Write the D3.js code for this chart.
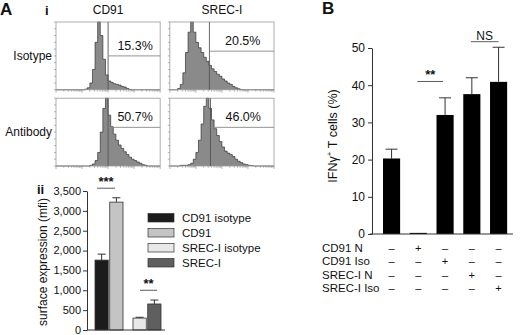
<!DOCTYPE html>
<html>
<head>
<meta charset="utf-8">
<script src="https://cdn.jsdelivr.net/npm/d3@7"></script>
<style>
  body { margin: 0; background: #fff; }
  svg text { font-family: "Liberation Sans", Arial, sans-serif; fill: #111; }
</style>
</head>
<body>
<div id="canvas"></div>
<script>
// DATA
// flow histograms: counts in 2.5% bins across the log axis, as % of the peak
const cd91IsoHist = [0,0,0,0,0,0,0,0,0,0,0,1,3,10,30,70,100,80,45,22,13,11,9,8,7,5,4,2,0.5,0,0,0,0,0,0,0,0,0,0,0];
const srecIsoHist = [0,0,0,2,8,25,55,85,100,85,70,62,55,48,42,36,31,27,23,20,16,13,10,8,5,3,1.5,0.5,0,0,0,0,0,0,0,0,0,0,0,0];
const cd91AbHist = [0,0,0,0,0,0,0,0,0,0,0,0,0,1,3,8,20,50,85,100,75,58,47,38,31,26,21,17,13,10,8,6,4,2,1,0,0,0,0,0];
const srecAbHist = [0,0,0,0,1,1,1,2,4,10,20,38,62,88,100,85,68,55,45,36,28,22,19,17,14,10,7,5,3,2,1,0.5,0,0,0,0,0,0,0,0];
const histColumns = ["CD91", "SREC-I"];
const histRows = ["Isotype", "Antibody"];
const histPercents = ["15.3%", "20.5%", "50.7%", "46.0%"];
const gateX = [50, 38, 50, 39];          // gate position, % of axis
const gateY = [50, 57, 57, 57];          // horizontal gate line, % of height from bottom

// surface expression
const surfaceGroups = ["CD91", "SREC-I"];
const surfaceSeries = ["CD91 isotype", "CD91", "SREC-I isotype", "SREC-I"];
const surfaceGroupOf = ["CD91", "CD91", "SREC-I", "SREC-I"];
const surfaceMean = [1760, 3220, 300, 655];
const surfaceErr = [150, 110, 20, 100];
const surfaceTicks = [0, 500, 1000, 1500, 2000, 2500, 3000, 3500];

// IFN-gamma T cells
const conditions = ["c1", "c2", "c3", "c4", "c5"];
const ifnMean = [20.3, 0.3, 32.0, 37.6, 40.9];
const ifnErr = [2.5, 0, 4.6, 4.4, 9.3];
const ifnTicks = [0, 10, 20, 30, 40, 50];
const treatRows = ["CD91 N", "CD91 Iso", "SREC-I N", "SREC-I Iso"];
const treatSigns = [
  ["–", "+", "–", "–", "–"],
  ["–", "–", "+", "–", "–"],
  ["–", "–", "–", "+", "–"],
  ["–", "–", "–", "–", "+"]
];

// CANVAS
const width = 520, height = 335;
const svg = d3.select("#canvas").append("svg")
  .attr("width", width).attr("height", height);

// PANEL LETTERS
svg.append("text").attr("x", 0).attr("y", 15).style("font-size", "17px").style("font-weight", "bold").text("A");
svg.append("text").attr("x", 45).attr("y", 15).style("font-size", "13px").style("font-weight", "bold").text("i");
svg.append("text").attr("x", 37).attr("y", 194).style("font-size", "13px").style("font-weight", "bold").text("ii");
svg.append("text").attr("x", 322).attr("y", 14).style("font-size", "17px").style("font-weight", "bold").text("B");

// ---------- A i : HISTOGRAMS ----------
const boxX = d3.scaleBand(histColumns, [56, 274]).paddingInner(0.085);
const boxY = d3.scaleBand(histRows, [22, 166]).paddingInner(0.11);
const hists = [cd91IsoHist, srecIsoHist, cd91AbHist, srecAbHist];

histColumns.forEach((c, ci) => {
  svg.append("text").attr("x", boxX(c) + boxX.bandwidth() / 2).attr("y", 14)
    .attr("text-anchor", "middle").style("font-size", "12px").text(c);
});
histRows.forEach(r => {
  svg.append("text").attr("x", 52).attr("y", boxY(r) + boxY.bandwidth() / 2 + 4)
    .attr("text-anchor", "end").style("font-size", "12px").text(r);
});

histRows.forEach((r, ri) => {
  histColumns.forEach((c, ci) => {
    const k = ri * 2 + ci;
    const x0 = boxX(c), w = boxX.bandwidth();
    const y0 = boxY(r), h = boxY.bandwidth();
    const g = svg.append("g").attr("transform", `translate(${x0},${y0})`);
    const data = hists[k];
    const sx = d3.scaleLinear([0, data.length], [0, w]);
    const sy = d3.scaleLinear([0, 100], [h, 0]);

    const pts = data.map((v, i) => [i, v]).concat([[data.length, 0]]);
    const area = d3.area().x(d => sx(d[0])).y0(h).y1(d => sy(d[1])).curve(d3.curveStepAfter);
    const line = d3.line().x(d => sx(d[0])).y(d => sy(d[1])).curve(d3.curveStepAfter);
    g.append("path").datum(pts).attr("d", area).attr("fill", "#8a8a8a");
    g.append("path").datum(pts).attr("d", line).attr("fill", "none").attr("stroke", "#333").attr("stroke-width", 0.7);

    // frame
    g.append("rect").attr("width", w).attr("height", h)
      .attr("fill", "none").attr("stroke", "#999").attr("stroke-width", 0.8);

    // log axis ticks on bottom
    const lx = d3.scaleLog([1, 10000], [0, w]);
    const minor = lx.ticks();
    g.selectAll(".bt").data(minor).join("line")
      .attr("x1", d => lx(d)).attr("x2", d => lx(d))
      .attr("y1", h).attr("y2", d => h + (Math.log10(d) % 1 === 0 ? 3 : 1.8))
      .attr("stroke", "#888").attr("stroke-width", 0.6);
    const ly = d3.scaleLinear([0, 10], [h, 0]);
    g.selectAll(".lt").data(ly.ticks(10)).join("line")
      .attr("x1", -2).attr("x2", 0)
      .attr("y1", d => ly(d)).attr("y2", d => ly(d))
      .attr("stroke", "#888").attr("stroke-width", 0.6);

    // gate
    const gx = d3.scaleLinear([0, 100], [0, w]);
    g.append("line").attr("x1", gx(gateX[k])).attr("x2", gx(gateX[k]))
      .attr("y1", 0).attr("y2", h).attr("stroke", "#555").attr("stroke-width", 0.9);
    g.append("line").attr("x1", gx(gateX[k])).attr("x2", w)
      .attr("y1", sy(gateY[k])).attr("y2", sy(gateY[k])).attr("stroke", "#888").attr("stroke-width", 0.9);
    g.append("text").attr("x", (gx(gateX[k]) + w) / 2 + 1).attr("y", sy(gateY[k]) - 6)
      .attr("text-anchor", "middle").style("font-size", "12.5px").text(histPercents[k]);
  });
});

// ---------- A ii : SURFACE EXPRESSION ----------
const aY = d3.scaleLinear([0, 3500], [330, 191]);
const aGroup = d3.scaleBand(surfaceGroups, [87.4, 168.6]).paddingInner(0.263).paddingOuter(0.2);
const aInner = d3.scaleBand([0, 1], [0, aGroup.bandwidth()]).paddingInner(0.1);
const aColor = d3.scaleOrdinal(surfaceSeries, ["#1c1c1c", "#c4c4c4", "#e8e8e8", "#5f5f5f"]);
const aXpos = i => aGroup(surfaceGroupOf[i]) + aInner(surfaceGroupOf.slice(0, i).filter(g => g === surfaceGroupOf[i]).length);

const aPlot = svg.append("g");
surfaceSeries.forEach((s, i) => {
  const x = aXpos(i), bw = aInner.bandwidth();
  aPlot.append("line").attr("x1", x + bw / 2).attr("x2", x + bw / 2)
    .attr("y1", aY(surfaceMean[i])).attr("y2", aY(surfaceMean[i] + surfaceErr[i]))
    .attr("stroke", "#333").attr("stroke-width", 1);
  aPlot.append("line").attr("x1", x + bw / 2 - 4).attr("x2", x + bw / 2 + 4)
    .attr("y1", aY(surfaceMean[i] + surfaceErr[i])).attr("y2", aY(surfaceMean[i] + surfaceErr[i]))
    .attr("stroke", "#333").attr("stroke-width", 1);
  aPlot.append("rect").attr("x", x).attr("width", bw)
    .attr("y", aY(surfaceMean[i])).attr("height", aY(0) - aY(surfaceMean[i]))
    .attr("fill", aColor(s)).attr("stroke", "#333").attr("stroke-width", 0.8);
});

const aAxis = svg.append("g").attr("transform", "translate(87,0)")
  .call(d3.axisLeft(aY).tickValues(surfaceTicks).tickFormat(d3.format(",")).tickSize(4).tickSizeOuter(0));
aAxis.selectAll("text").style("font-size", "11px").attr("x", -6).attr("dy", "0.3em");
aAxis.selectAll("line, path").attr("stroke", "#333");
svg.append("line").attr("x1", 87).attr("x2", 165).attr("y1", aY(0)).attr("y2", aY(0)).attr("stroke", "#333");

svg.append("text").attr("transform", `translate(47,262) rotate(-90)`)
  .attr("text-anchor", "middle").style("font-size", "12px").text("surface expression (mfi)");

// significance
function sigBar(g, x1, x2, y, label) {
  g.append("line").attr("x1", x1).attr("x2", x2).attr("y1", y).attr("y2", y).attr("stroke", "#333").attr("stroke-width", 0.8);
  g.append("text").attr("x", (x1 + x2) / 2).attr("y", y - 2).attr("text-anchor", "middle")
    .style("font-size", label === "NS" ? "12px" : "13px").style("font-weight", label === "NS" ? "normal" : "bold").text(label);
}
sigBar(aPlot, 97, 115, aY(3570), "***");
sigBar(aPlot, 140, 157, aY(1000), "**");

// legend
const legend = svg.append("g");
legend.selectAll("rect").data(surfaceSeries).join("rect")
  .attr("x", 148).attr("y", (d, i) => 213.5 + i * 15).attr("width", 26).attr("height", 8.5)
  .attr("fill", d => aColor(d)).attr("stroke", "#333").attr("stroke-width", 0.7);
legend.selectAll("text").data(surfaceSeries).join("text")
  .attr("x", 182).attr("y", (d, i) => 222 + i * 15).style("font-size", "11.5px").text(d => d);

// ---------- B : IFN-gamma ----------
const bY = d3.scaleLinear([0, 50], [234, 48]);
const bX = d3.scaleBand(conditions, [377.65, 512.5]).paddingInner(0.36).paddingOuter(0.2);
const bPlot = svg.append("g");
conditions.forEach((c, i) => {
  const cx = bX(c) + bX.bandwidth() / 2;
  if (ifnErr[i] > 0) {
    bPlot.append("line").attr("x1", cx).attr("x2", cx)
      .attr("y1", bY(ifnMean[i])).attr("y2", bY(ifnMean[i] + ifnErr[i])).attr("stroke", "#333").attr("stroke-width", 1);
    bPlot.append("line").attr("x1", cx - 6).attr("x2", cx + 6)
      .attr("y1", bY(ifnMean[i] + ifnErr[i])).attr("y2", bY(ifnMean[i] + ifnErr[i])).attr("stroke", "#333").attr("stroke-width", 1);
  }
  bPlot.append("rect").attr("x", bX(c)).attr("width", bX.bandwidth())
    .attr("y", bY(ifnMean[i])).attr("height", bY(0) - bY(ifnMean[i])).attr("fill", "#000");
});

const bAxis = svg.append("g").attr("transform", "translate(372,0)")
  .call(d3.axisLeft(bY).tickValues(ifnTicks).tickSize(4).tickSizeOuter(0));
bAxis.selectAll("text").style("font-size", "12px").attr("x", -7);
bAxis.selectAll("line, path").attr("stroke", "#333");
svg.append("line").attr("x1", 370).attr("x2", 513).attr("y1", bY(0)).attr("y2", bY(0)).attr("stroke", "#333");

const yl = svg.append("text").attr("transform", "translate(337,136) rotate(-90)")
  .attr("text-anchor", "middle").style("font-size", "12.5px");
yl.append("tspan").text("IFNγ");
yl.append("tspan").attr("dy", -5).style("font-size", "8px").text("+");
yl.append("tspan").attr("dy", 5).text(" T cells (%)");

const mid = i => bX(conditions[i]) + bX.bandwidth() / 2;
sigBar(bPlot, mid(1) - 1, mid(2) - 2, bY(41), "**");
sigBar(bPlot, mid(3) - 1, mid(4), bY(51.7), "NS");

// treatment table
treatRows.forEach((r, ri) => {
  const y = 252 + ri * 13.4;
  svg.append("text").attr("x", 322).attr("y", y).style("font-size", "11.5px").text(r);
  conditions.forEach((c, ci) => {
    svg.append("text").attr("x", mid(ci)).attr("y", y)
      .attr("text-anchor", "middle").style("font-size", "11px").text(treatSigns[ri][ci]);
  });
});
</script>
</body>
</html>
